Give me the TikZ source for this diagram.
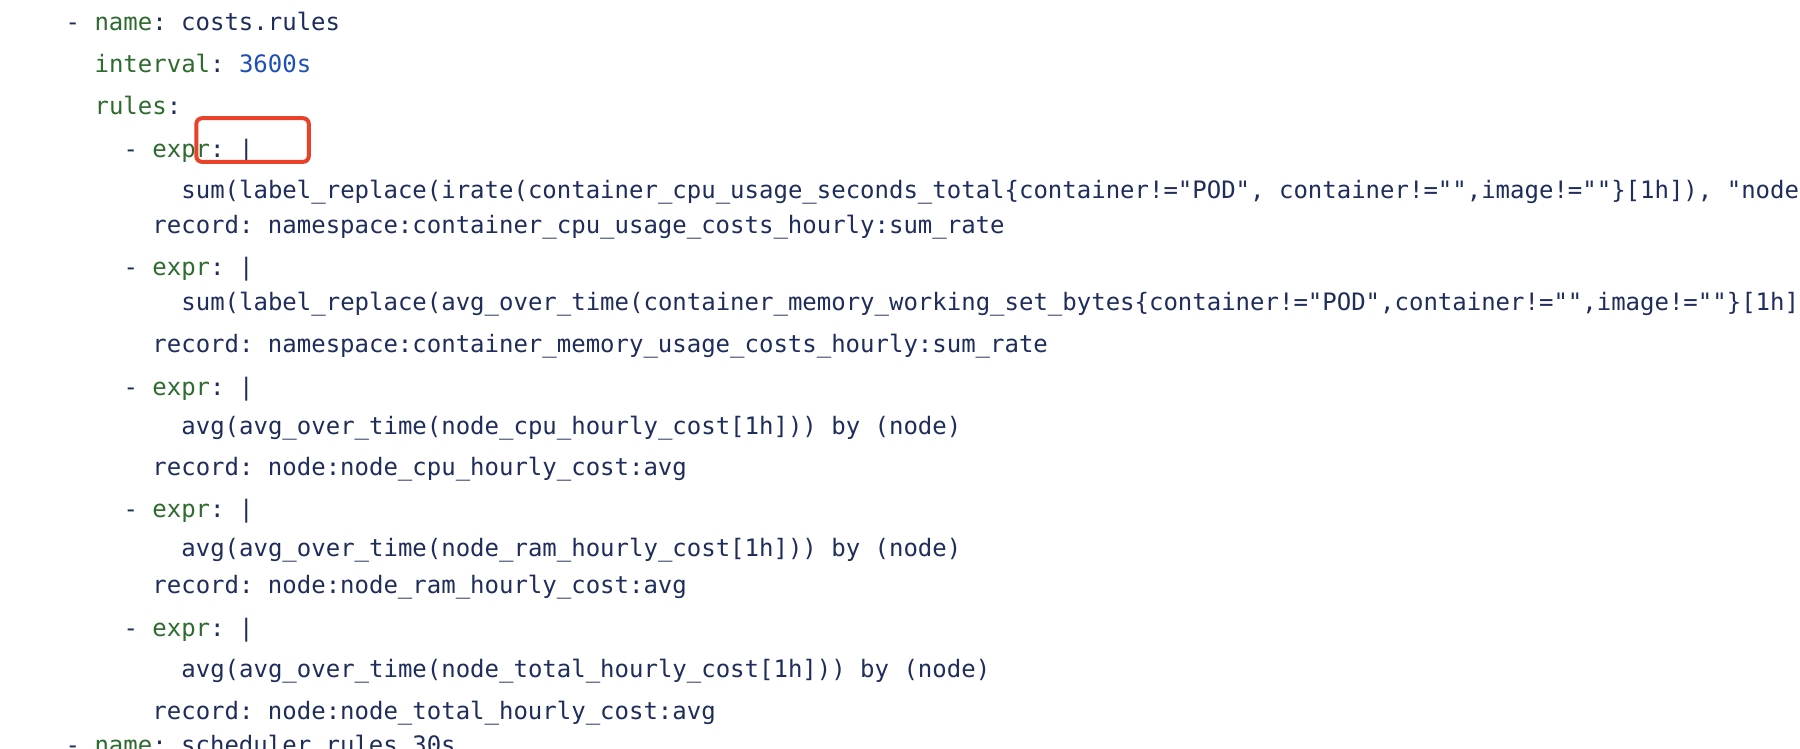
\documentclass[tikz,border=0pt]{standalone}
\usepackage{fontspec}
\setmonofont{DejaVu Sans Mono}
\definecolor{keyc}{HTML}{2E6B2E}
\definecolor{txtc}{HTML}{1F2D5C}
\definecolor{numc}{HTML}{1D4FB5}
\definecolor{boxc}{HTML}{E8432A}
\begin{document}
\begin{tikzpicture}[x=1pt,y=-1pt,
  code/.style={anchor=mid west,inner sep=0pt,font=\ttfamily\fontsize{20.9}{24}\selectfont,text=txtc}]
\useasboundingbox (0,0) rectangle (1568,652);
\clip (0,0) rectangle (1568,652);
\fill[white] (0,0) rectangle (1568,652);
\def\cw{12.6}
\newcommand\cl[4]{\node[code] (#1) at ({57+\cw*#2},#3+4) {#4};}
\cl{l1}{0}{20}{- \textcolor{keyc}{name}: costs.rules}
\cl{l2}{2}{57}{\textcolor{keyc}{interval}: \textcolor{numc}{3600s}}
\cl{l3}{2}{94}{\textcolor{keyc}{rules}:}
\cl{l4}{4}{131}{- \textcolor{keyc}{expr}: |}
\cl{l5}{8}{167}{sum(label\_replace(irate(container\_cpu\_usage\_seconds\_total\{container!="POD", container!="",image!=""\}[1h]), "node}
\cl{l6}{6}{197}{record: namespace:container\_cpu\_usage\_costs\_hourly:sum\_rate}
\cl{l7}{4}{234}{- \textcolor{keyc}{expr}: |}
\cl{l8}{8}{264}{sum(label\_replace(avg\_over\_time(container\_memory\_working\_set\_bytes\{container!="POD",container!="",image!=""\}[1h]}
\cl{l9}{6}{301}{record: namespace:container\_memory\_usage\_costs\_hourly:sum\_rate}
\cl{l10}{4}{338}{- \textcolor{keyc}{expr}: |}
\cl{l11}{8}{372}{avg(avg\_over\_time(node\_cpu\_hourly\_cost[1h])) by (node)}
\cl{l12}{6}{408}{record: node:node\_cpu\_hourly\_cost:avg}
\cl{l13}{4}{445}{- \textcolor{keyc}{expr}: |}
\cl{l14}{8}{479}{avg(avg\_over\_time(node\_ram\_hourly\_cost[1h])) by (node)}
\cl{l15}{6}{511}{record: node:node\_ram\_hourly\_cost:avg}
\cl{l16}{4}{548}{- \textcolor{keyc}{expr}: |}
\cl{l17}{8}{584}{avg(avg\_over\_time(node\_total\_hourly\_cost[1h])) by (node)}
\cl{l18}{6}{621}{record: node:node\_total\_hourly\_cost:avg}
\cl{l19}{0}{650}{- \textcolor{keyc}{name}: scheduler.rules.30s}
\draw[boxc,line width=3.5pt,rounded corners=5pt] (171,103) rectangle (269,141);
\end{tikzpicture}
\end{document}
